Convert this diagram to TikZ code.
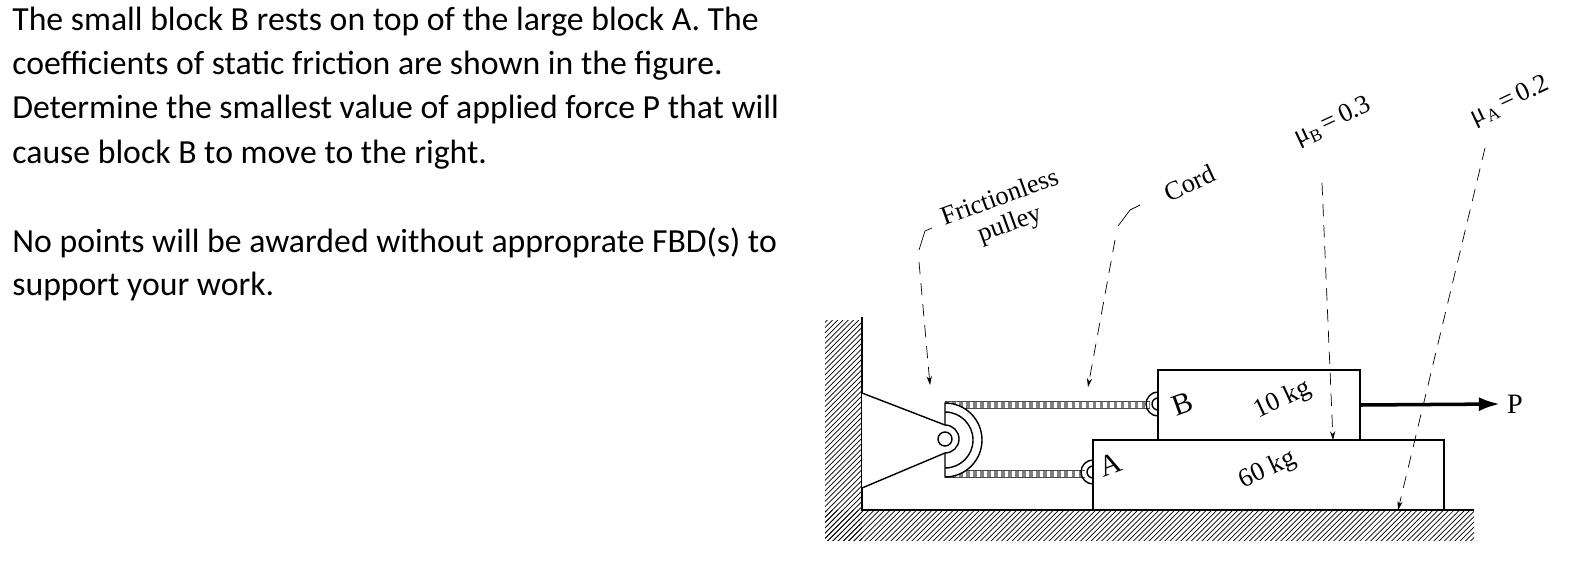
\documentclass[tikz,border=0pt]{standalone}
\usepackage{fontspec}
\setmainfont{Carlito}
\newfontfamily\serifA{Liberation Serif}
\usetikzlibrary{patterns,arrows.meta}
\begin{document}
\begin{tikzpicture}[x=0.02cm,y=-0.02cm,
  txt/.style={anchor=west,inner sep=0,font=\fontsize{19.2}{22}\selectfont},
  lab/.style={font=\serifA\fontsize{15}{16}\selectfont,inner sep=1pt},
  lead/.style={dashed,dash pattern=on 7pt off 5pt,thin,-{Stealth[length=5pt,width=3pt]}},
  cord/.style={line width=5pt,draw=black!70,postaction={draw=white,line width=3pt},postaction={draw=gray,line width=3pt,dash pattern=on 2pt off 2pt}},
  blk/.style={draw,thick,fill=white}]
\useasboundingbox (0,0) rectangle (1579,578);
\node[txt] (t1) at (12,22) {The small block B rests on top of the large block A. The};
\node[txt] (t2) at (12,66) {coefficients of static friction are shown in the figure.};
\node[txt] (t3) at (12,110) {Determine the smallest value of applied force P that will};
\node[txt] (t4) at (12,155) {cause block B to move to the right.};
\node[txt] (t5) at (12,243) {No points will be awarded without approprate FBD(s) to};
\node[txt] (t6) at (12,287) {support your work.};
% ground and wall hatching
\fill[pattern=north east lines] (825,320) rectangle (862,540);
\fill[pattern=north east lines] (825,510) rectangle (1474,540);
\draw[thick] (862,317) -- (862,510) -- (1474,510);
% cords
\draw[cord] (945,405) -- (1150,405);
\draw[cord] (945,474) -- (1085,474);
% pulley
\draw[thick,fill=white] (945,403) arc (-90:90:37) -- cycle;
\draw[thick] (945,412) arc (-90:90:28);
\draw[thick,fill=white] (862,393) -- (945,425) arc (-90:90:14) -- (862,488);
\draw[thick] (945,439) circle (7);
% hooks
\draw[thick] (1158,392) arc (-90:-270:12);
\draw[thick] (1158,398) arc (-90:-270:6);
\draw[thick] (1093,460) arc (-90:-270:12);
\draw[thick] (1093,466) arc (-90:-270:6);
% blocks
\node[blk,minimum width=202*0.02cm,minimum height=70*0.02cm] (B) at (1259,405) {};
\node[blk,minimum width=351*0.02cm,minimum height=70*0.02cm] (A) at (1268.5,475) {};
\node[lab,font=\serifA\fontsize{17}{18}\selectfont,rotate=20] (lB) at (1183,404) {B};
\node[lab,font=\serifA\fontsize{17}{18}\selectfont,rotate=20] (lA) at (1110,465) {A};
\node[lab,rotate=25] (m10) at (1283,400) {10 kg};
\node[lab,rotate=25] (m60) at (1268,470) {60 kg};
% force P
\coordinate (Ptip) at (1500,404);
\draw[line width=2pt,-{Latex[length=12pt,width=8pt]}] (B.east) -- (Ptip);
\node[lab,font=\serifA\fontsize{16}{16}\selectfont,anchor=west] (P) at (1505,404) {P};
% labels
\node[lab,rotate=20,align=center] (fp) at (1005,212) {Frictionless\\pulley};
\node[lab,rotate=25] (cd) at (1190,183) {Cord};
\node[lab,rotate=25] (mb) at (1333,122) {μ\raisebox{-3pt}{\fontsize{10}{10}\selectfont B}\,=\,0.3};
\node[lab,rotate=25] (ma) at (1510,101) {μ\raisebox{-3pt}{\fontsize{10}{10}\selectfont A}\,=\,0.2};
\coordinate (fpc) at (925,231);
\coordinate (cdc) at (1130,210);
\draw[thin] (932,228) -- (fpc) -- (919,250);
\draw[thin] (1140,205) -- (cdc) -- (1118,226);
\coordinate (pa) at (930,385);
\coordinate (ca) at (1088,387);
\coordinate (ba) at (1333,440);
\coordinate (aa) at (1398,510);
\draw[lead] (919,262) -- (pa);
\draw[lead] (1115,240) -- (ca);
\draw[lead] (1322,183) -- (ba);
\draw[lead] (1485,148) -- (aa);
\end{tikzpicture}
\end{document}
